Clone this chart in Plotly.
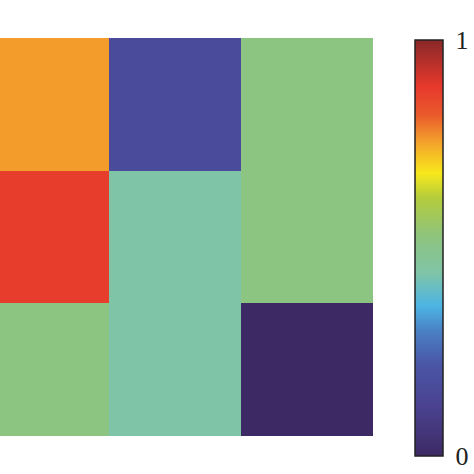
import plotly.graph_objects as go

# Data
x_cats = [0, 1, 2]
y_cats = [0, 1, 2]  # 0 = top row
z_values = [
    [0.76, 0.17, 0.52],
    [0.88, 0.44, 0.52],
    [0.52, 0.44, 0.00],
]
tick_vals = [0, 1]
tick_text = ["0", "1"]

colorscale = [
    [0.00, "#3d2a64"],
    [0.12, "#4a4290"],
    [0.22, "#4a55a6"],
    [0.30, "#4a80c4"],
    [0.36, "#4cb4e4"],
    [0.44, "#80c4a8"],
    [0.53, "#8ec47c"],
    [0.62, "#b4cc3c"],
    [0.68, "#f8e81c"],
    [0.76, "#f39c2c"],
    [0.82, "#ea5a2c"],
    [0.89, "#e6382c"],
    [1.00, "#882828"],
]

BAR_TOP, BAR_BOTTOM = 40, 456
PLOT_TOP, PLOT_BOTTOM = 38, 436

fig = go.Figure(go.Heatmap(
    x=x_cats, y=y_cats, z=z_values,
    colorscale=colorscale, zmin=0, zmax=1,
    colorbar=dict(
        x=415 / 373, xanchor="left", xpad=0,
        y=(PLOT_BOTTOM - (BAR_TOP + BAR_BOTTOM) / 2) / (PLOT_BOTTOM - PLOT_TOP),
        yanchor="middle", ypad=0,
        lenmode="pixels", len=BAR_BOTTOM - BAR_TOP,
        thickness=28,
        outlinewidth=1.5, outlinecolor="#222222",
        tickvals=tick_vals, ticktext=tick_text,
        ticks="outside", ticklen=7, tickcolor="rgba(0,0,0,0)",
        ticklabeloverflow="allow",
        tickfont=dict(family="Liberation Serif", size=26, color="#222222"),
    ),
))

fig.update_layout(
    width=474, height=474,
    margin=dict(l=0, r=101, t=PLOT_TOP, b=474 - PLOT_BOTTOM, autoexpand=False),
    paper_bgcolor="white", plot_bgcolor="white",
    xaxis=dict(range=[-0.326, 2.5], visible=False, showgrid=False, zeroline=False),
    yaxis=dict(range=[2.5, -0.5], visible=False, showgrid=False, zeroline=False),
)

fig.write_html("out.html", config={"displayModeBar": False},
               post_script="document.body.style.margin='0';")
